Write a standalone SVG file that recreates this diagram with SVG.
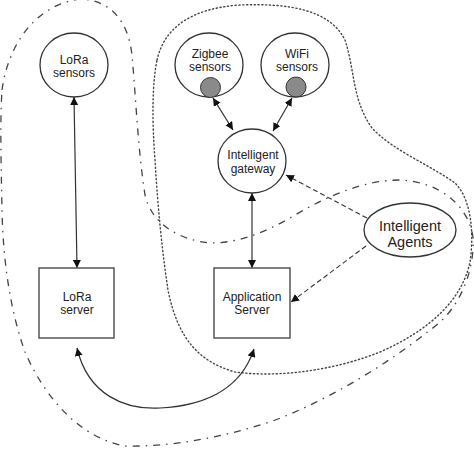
<svg xmlns="http://www.w3.org/2000/svg" width="474" height="449" viewBox="0 0 474 449">
<style>
.node{fill:#fff;stroke:#333;stroke-width:1.3}
.box{fill:#fff;stroke:#555;stroke-width:1.5}
.dot{fill:#8a8a8a;stroke:#333;stroke-width:1}
.t{font-family:"Liberation Sans",Arial,sans-serif;font-size:12px;fill:#222;text-anchor:middle}
.tb{font-family:"Liberation Sans",Arial,sans-serif;font-size:14.5px;fill:#222;text-anchor:middle}
.c{fill:none;stroke:#333;stroke-width:1.2}
.d{fill:none;stroke:#333;stroke-width:1.1;stroke-dasharray:5 3}
.b1{fill:none;stroke:#444;stroke-width:1.4;stroke-dasharray:1.2 2.6;stroke-linecap:round}
.b2{fill:none;stroke:#444;stroke-width:1.3;stroke-dasharray:7 6 1.5 6}
</style>
<defs>
<marker id="ah" viewBox="0 0 10 10" refX="10" refY="5" markerWidth="8" markerHeight="8" markerUnits="userSpaceOnUse" orient="auto-start-reverse">
<path d="M0,0 L10,5 L0,10 z" fill="#111"/>
</marker>
</defs>
<g id="boundaries">
<path class="b1" d="M157,60 C165,25 195,8 240,5 C290,3 330,10 345,40 C355,70 352,100 372,128 C392,150 430,165 455,183 C472,200 474,235 470,262 C462,300 430,330 380,352 C335,370 280,378 235,372 C200,362 178,340 168,290 C162,250 158,210 155,160 C152,120 152,85 157,60 Z"/>
<path class="b2" d="M2,90 C8,45 35,5 80,-1 C110,0 128,20 132,55 C136,100 138,150 145,195 C152,225 180,240 210,243 C240,243 265,232 290,218 C320,200 360,180 400,180 C440,182 468,205 473,237 C475,270 460,310 430,330 C390,362 330,400 270,422 C220,438 170,447 125,446 C80,438 45,398 25,352 C10,310 3,260 2,210 C1,160 0,120 2,90 Z"/>
</g>
<g id="connectors">
<path class="c" d="M74,97 L77,268" marker-start="url(#ah)" marker-end="url(#ah)"/>
<path class="c" d="M213,98 L233,130" marker-start="url(#ah)" marker-end="url(#ah)"/>
<path class="c" d="M292,98 L273,131" marker-start="url(#ah)" marker-end="url(#ah)"/>
<path class="c" d="M252,193 L252,268" marker-start="url(#ah)" marker-end="url(#ah)"/>
<path class="c" d="M77,348 C88,395 125,410 160,408 C200,406 240,392 254,349" marker-start="url(#ah)" marker-end="url(#ah)"/>
<path class="d" d="M367,218 L286,175" marker-end="url(#ah)"/>
<path class="d" d="M366,246 L291,302" marker-end="url(#ah)"/>
</g>
<g id="lora-sensors">
<ellipse class="node" cx="74" cy="65" rx="34" ry="32"/>
<text class="t" x="74" y="64">LoRa</text>
<text class="t" x="74" y="77">sensors</text>
</g>
<g id="zigbee-sensors">
<ellipse class="node" cx="209" cy="65" rx="34" ry="32"/>
<circle class="dot" cx="210.5" cy="87.5" r="10"/>
<text class="t" x="210" y="58">Zigbee</text>
<text class="t" x="210" y="71">sensors</text>
</g>
<g id="wifi-sensors">
<ellipse class="node" cx="295" cy="65" rx="34" ry="32"/>
<circle class="dot" cx="296" cy="87" r="10"/>
<text class="t" x="297" y="58">WiFi</text>
<text class="t" x="297" y="71">sensors</text>
</g>
<g id="intelligent-gateway">
<ellipse class="node" cx="252" cy="161" rx="34" ry="32"/>
<text class="t" x="253" y="159">Intelligent</text>
<text class="t" x="253" y="173">gateway</text>
</g>
<g id="intelligent-agents">
<ellipse class="node" cx="410" cy="230" rx="46" ry="27"/>
<text class="tb" x="410" y="231">Intelligent</text>
<text class="tb" x="410" y="247">Agents</text>
</g>
<g id="lora-server">
<rect class="box" x="39" y="268" width="75" height="70"/>
<text class="t" x="77" y="301">LoRa</text>
<text class="t" x="77" y="314">server</text>
</g>
<g id="application-server">
<rect class="box" x="214" y="268" width="76" height="70"/>
<text class="t" x="252" y="301">Application</text>
<text class="t" x="252" y="314">Server</text>
</g>
</svg>
